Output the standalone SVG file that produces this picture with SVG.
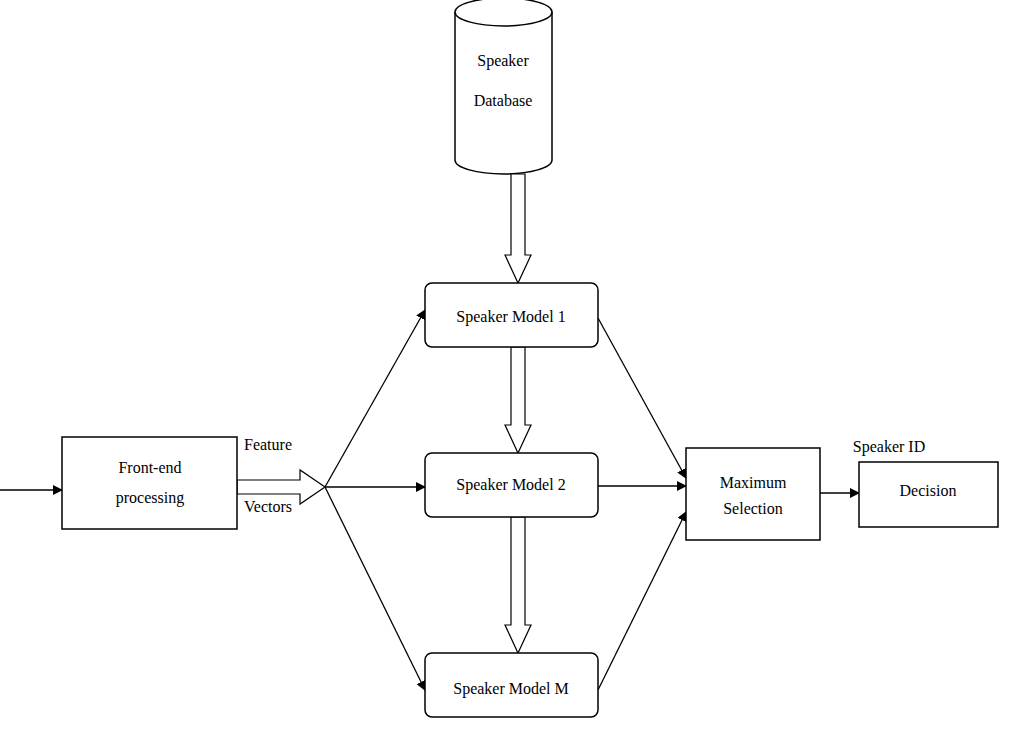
<svg xmlns="http://www.w3.org/2000/svg" width="1024" height="740" viewBox="0 0 1024 740">
<style>
.b{fill:#fff;stroke:#000;stroke-width:1.5}
.h{fill:#fff;stroke:#000;stroke-width:1.2}
.l{stroke:#000;stroke-width:1.3;fill:none}
text{font-family:"Liberation Serif",serif;font-size:16px;fill:#000;text-anchor:middle}
</style>
<defs><marker id="a" markerWidth="10" markerHeight="10" refX="9" refY="5" orient="auto" markerUnits="userSpaceOnUse"><path d="M0,0 L10,5 L0,10 z" fill="#000"/></marker></defs>
<rect width="1024" height="740" fill="#fff"/>
<g id="db"><path class="b" d="M455,12 V160 A48.5,14 0 0 0 552,160 V12"/><ellipse class="b" cx="503.5" cy="12" rx="48.5" ry="14"/><text x="503" y="66">Speaker</text><text x="503" y="106">Database</text></g>
<g id="connectors">
<path class="h" d="M511,174 H525 V255 H531 L518,283 L505,255 H511 Z"/>
<path class="h" d="M511,347 H525 V425 H531 L518,453 L505,425 H511 Z"/>
<path class="h" d="M511,517 H525 V625 H531 L518,653 L505,625 H511 Z"/>
<path class="h" d="M237,480 H300 V470 L325,487 L300,504 V494 H237 Z"/>
<line class="l" x1="0" y1="490" x2="62" y2="490" marker-end="url(#a)"/>
<line class="l" x1="325" y1="487" x2="425" y2="310" marker-end="url(#a)"/>
<line class="l" x1="325" y1="487" x2="425" y2="487" marker-end="url(#a)"/>
<line class="l" x1="325" y1="487" x2="425" y2="690" marker-end="url(#a)"/>
<line class="l" x1="598" y1="318" x2="686" y2="478" marker-end="url(#a)"/>
<line class="l" x1="598" y1="486" x2="686" y2="486" marker-end="url(#a)"/>
<line class="l" x1="598" y1="690" x2="686" y2="512" marker-end="url(#a)"/>
<line class="l" x1="820" y1="493" x2="859" y2="493" marker-end="url(#a)"/>
</g>
<g id="fe"><rect class="b" x="62" y="437" width="175" height="92"/><text x="150" y="473">Front-end</text><text x="150" y="503">processing</text></g>
<text x="268" y="450">Feature</text><text x="268" y="512">Vectors</text>
<g id="m1"><rect class="b" x="425" y="283" width="173" height="64" rx="7"/><text x="511" y="322">Speaker Model 1</text></g>
<g id="m2"><rect class="b" x="425" y="453" width="173" height="64" rx="7"/><text x="511" y="490">Speaker Model 2</text></g>
<g id="mm"><rect class="b" x="425" y="653" width="173" height="64" rx="7"/><text x="511" y="694">Speaker Model M</text></g>
<g id="max"><rect class="b" x="686" y="448" width="134" height="92"/><text x="753" y="488">Maximum</text><text x="753" y="514">Selection</text></g>
<text x="889" y="452">Speaker ID</text>
<g id="dec"><rect class="b" x="859" y="462" width="139" height="65"/><text x="928" y="496">Decision</text></g>
</svg>
